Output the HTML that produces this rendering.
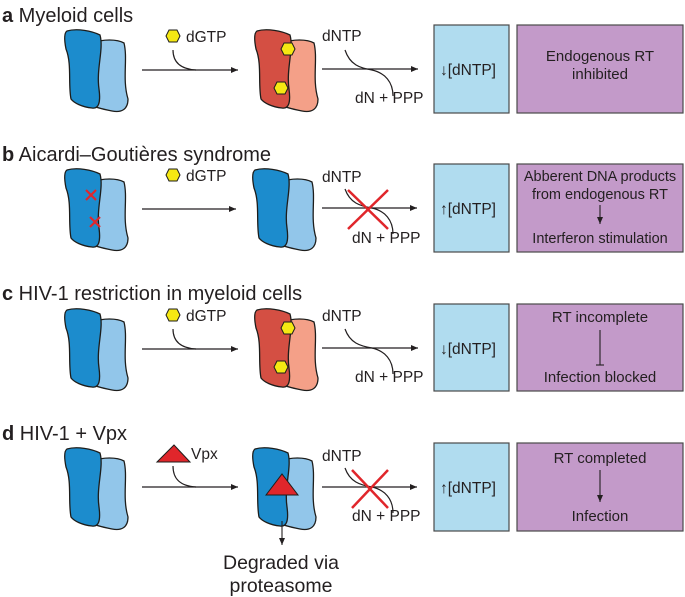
<!DOCTYPE html>
<html><head><meta charset="utf-8"><style>
html,body{margin:0;padding:0;background:#fff}
svg{display:block}
text{font-family:"Liberation Sans",sans-serif;fill:#231f20}
</style></head><body>
<svg width="685" height="597" viewBox="0 0 685 597" xmlns="http://www.w3.org/2000/svg">
<defs>
<marker id="ah" markerWidth="8" markerHeight="8" refX="7" refY="4" orient="auto" markerUnits="userSpaceOnUse">
<path d="M0,1 L7,4 L0,7 Z" fill="#231f20"/></marker>
<g id="blue">
<path d="M32,14 C40,10 55,10 62,14 C66,30 60,50 66,70 C66,80 60,84 50,82 C40,80 32,78 30,76 C28,60 36,40 32,14Z" fill="#92c6ea" stroke="#1d1d1b" stroke-width="1.3"/>
<path d="M5,2 C15,-1 30,2 38,6 C42,20 34,40 37,60 C39,75 36,80 30,79 C20,78 12,74 9,70 C6,55 10,35 4,20 C2,10 2,4 5,2Z" fill="#1c8ccd" stroke="#1d1d1b" stroke-width="1.3"/>
</g>
<g id="red">
<path d="M32,14 C40,10 55,10 62,14 C66,30 60,50 66,70 C66,80 60,84 50,82 C40,80 32,78 30,76 C28,60 36,40 32,14Z" fill="#f4a088" stroke="#1d1d1b" stroke-width="1.3"/>
<path d="M5,2 C15,-1 30,2 38,6 C42,20 34,40 37,60 C39,75 36,80 30,79 C20,78 12,74 9,70 C6,55 10,35 4,20 C2,10 2,4 5,2Z" fill="#d44f43" stroke="#1d1d1b" stroke-width="1.3"/>
</g>
<path id="hex" d="M-4,-6 L4,-6 L7,0 L4,6 L-4,6 L-7,0Z" fill="#f5e813" stroke="#1d1d1b" stroke-width="1"/>
</defs>

<g font-size="15.5">
<!-- Panel a -->
<text x="2" y="22" font-size="20"><tspan font-weight="bold">a</tspan>  Myeloid cells</text>
<use href="#blue" x="62" y="29"/>
<use href="#hex" x="173" y="36"/>
<text x="186" y="42">dGTP</text>
<line x1="142" y1="70" x2="238" y2="70" stroke="#231f20" stroke-width="1.2" marker-end="url(#ah)"/>
<path d="M173,50 C173,62 180,69 196,70" fill="none" stroke="#231f20" stroke-width="1.2"/>
<use href="#red" x="252" y="29"/>
<use href="#hex" x="288" y="49"/>
<use href="#hex" x="281" y="88"/>
<text x="322" y="41">dNTP</text>
<line x1="322" y1="69" x2="418" y2="69" stroke="#231f20" stroke-width="1.2" marker-end="url(#ah)"/>
<path d="M345,50 C350,65 360,68 372,70 C385,73 393,82 393,96" fill="none" stroke="#231f20" stroke-width="1.2"/>
<text x="355" y="103">dN + PPP</text>
<rect x="434" y="25" width="75" height="88" fill="#b0dcef" stroke="#4a4a4a" stroke-width="1.2"/>
<text x="440" y="75">↓[dNTP]</text>
<rect x="517" y="25" width="166" height="88" fill="#c39ac9" stroke="#4a4a4a" stroke-width="1.2"/>
<text x="600" y="61" text-anchor="middle" font-size="15">Endogenous RT</text>
<text x="600" y="79" text-anchor="middle" font-size="15">inhibited</text>

<!-- Panel b -->
<text x="2" y="161" font-size="20"><tspan font-weight="bold">b</tspan>  Aicardi–Goutières syndrome</text>
<use href="#blue" x="62" y="168"/>
<g stroke="#e0262b" stroke-width="2.2">
<path d="M86,190 L96,200 M96,190 L86,200"/><path d="M90,217 L100,227 M100,217 L90,227"/>
<path d="M274,190 L284,200 M284,190 L274,200"/><path d="M278,217 L288,227 M288,217 L278,227"/>
</g>
<use href="#hex" x="173" y="175"/>
<text x="186" y="181">dGTP</text>
<line x1="142" y1="209" x2="236" y2="209" stroke="#231f20" stroke-width="1.2" marker-end="url(#ah)"/>
<use href="#blue" x="250" y="168"/>
<text x="322" y="182">dNTP</text>
<line x1="322" y1="208" x2="417" y2="208" stroke="#231f20" stroke-width="1.2" marker-end="url(#ah)"/>
<path d="M345,189 C350,203 360,206 372,208 C385,211 393,220 393,234" fill="none" stroke="#231f20" stroke-width="1.2"/>
<path d="M348,190 L388,229 M388,190 L348,229" stroke="#e0262b" stroke-width="2.5"/>
<text x="352" y="243">dN + PPP</text>
<rect x="434" y="164" width="75" height="88" fill="#b0dcef" stroke="#4a4a4a" stroke-width="1.2"/>
<text x="440" y="214">↑[dNTP]</text>
<rect x="517" y="164" width="166" height="88" fill="#c39ac9" stroke="#4a4a4a" stroke-width="1.2"/>
<text x="600" y="181" text-anchor="middle" font-size="14.5">Abberent DNA products</text>
<text x="600" y="199" text-anchor="middle" font-size="14.5">from endogenous RT</text>
<line x1="600" y1="205" x2="600" y2="224" stroke="#231f20" stroke-width="1.1" marker-end="url(#ah)"/>
<text x="600" y="243" text-anchor="middle" font-size="14.5">Interferon stimulation</text>

<!-- Panel c -->
<text x="2" y="300" font-size="20"><tspan font-weight="bold">c</tspan>  HIV-1 restriction in myeloid cells</text>
<use href="#blue" x="62" y="308"/>
<use href="#hex" x="173" y="315"/>
<text x="186" y="321">dGTP</text>
<line x1="142" y1="349" x2="238" y2="349" stroke="#231f20" stroke-width="1.2" marker-end="url(#ah)"/>
<path d="M173,329 C173,341 180,348 196,349" fill="none" stroke="#231f20" stroke-width="1.2"/>
<use href="#red" x="252" y="308"/>
<use href="#hex" x="288" y="328"/>
<use href="#hex" x="281" y="367"/>
<text x="322" y="321">dNTP</text>
<line x1="322" y1="348" x2="418" y2="348" stroke="#231f20" stroke-width="1.2" marker-end="url(#ah)"/>
<path d="M345,329 C350,343 360,346 372,348 C385,351 393,360 393,374" fill="none" stroke="#231f20" stroke-width="1.2"/>
<text x="355" y="382">dN + PPP</text>
<rect x="434" y="304" width="75" height="87" fill="#b0dcef" stroke="#4a4a4a" stroke-width="1.2"/>
<text x="440" y="354">↓[dNTP]</text>
<rect x="517" y="304" width="166" height="87" fill="#c39ac9" stroke="#4a4a4a" stroke-width="1.2"/>
<text x="600" y="322" text-anchor="middle" font-size="15">RT incomplete</text>
<line x1="600" y1="330" x2="600" y2="365" stroke="#231f20" stroke-width="1.1"/>
<line x1="596" y1="365" x2="604" y2="365" stroke="#231f20" stroke-width="1.1"/>
<text x="600" y="382" text-anchor="middle" font-size="15">Infection blocked</text>

<!-- Panel d -->
<text x="2" y="440" font-size="20"><tspan font-weight="bold">d</tspan>  HIV-1 + Vpx</text>
<use href="#blue" x="62" y="447"/>
<path d="M157,462 L174,445 L190,462 Z" fill="#e0262b" stroke="#1d1d1b" stroke-width="1"/>
<text x="191" y="459">Vpx</text>
<line x1="142" y1="487" x2="238" y2="487" stroke="#231f20" stroke-width="1.2" marker-end="url(#ah)"/>
<path d="M173,466 C173,479 180,486 196,487" fill="none" stroke="#231f20" stroke-width="1.2"/>
<use href="#blue" x="250" y="447"/>
<path d="M266,495 L282,474 L298,495 Z" fill="#e0262b" stroke="#1d1d1b" stroke-width="1"/>
<line x1="282" y1="521" x2="282" y2="545" stroke="#231f20" stroke-width="1.1" marker-end="url(#ah)"/>
<text x="281" y="569" text-anchor="middle" font-size="19.5">Degraded via</text>
<text x="281" y="592" text-anchor="middle" font-size="19.5">proteasome</text>
<text x="322" y="461">dNTP</text>
<line x1="322" y1="487" x2="417" y2="487" stroke="#231f20" stroke-width="1.2" marker-end="url(#ah)"/>
<path d="M345,468 C350,482 360,485 372,487 C385,490 393,499 393,513" fill="none" stroke="#231f20" stroke-width="1.2"/>
<path d="M352,470 L388,508 M388,470 L352,508" stroke="#e0262b" stroke-width="2.5"/>
<text x="352" y="521">dN + PPP</text>
<rect x="434" y="443" width="75" height="88" fill="#b0dcef" stroke="#4a4a4a" stroke-width="1.2"/>
<text x="440" y="493">↑[dNTP]</text>
<rect x="517" y="443" width="166" height="88" fill="#c39ac9" stroke="#4a4a4a" stroke-width="1.2"/>
<text x="600" y="463" text-anchor="middle" font-size="15">RT completed</text>
<line x1="600" y1="470" x2="600" y2="502" stroke="#231f20" stroke-width="1.1" marker-end="url(#ah)"/>
<text x="600" y="521" text-anchor="middle" font-size="15">Infection</text>
</g>
</svg>
</body></html>
